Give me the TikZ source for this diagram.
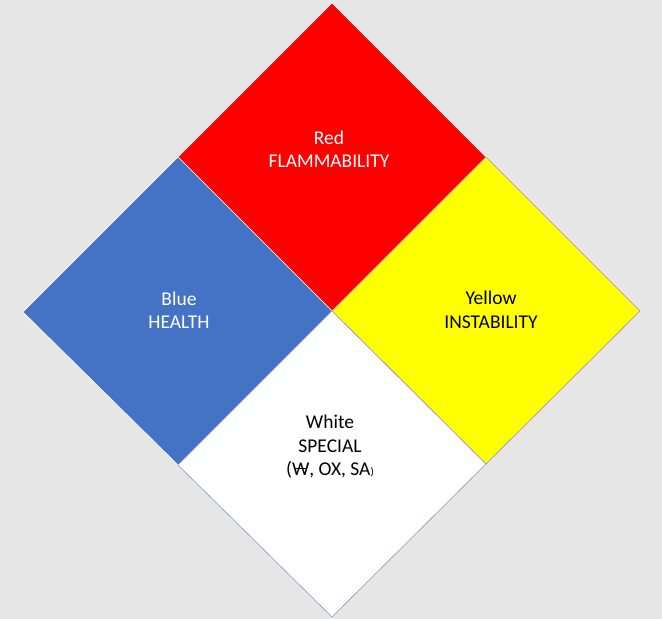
\documentclass[tikz,border=0pt]{standalone}
\usepackage{fontspec}
\setmainfont{Carlito}
\definecolor{bgc}{HTML}{E6E6E6}
\definecolor{nfpared}{HTML}{FF0000}
\definecolor{nfpablue}{HTML}{4472C4}
\definecolor{nfpayellow}{HTML}{FFFF00}
\definecolor{edgec}{HTML}{8C96BE}
\newcommand{\strikeW}{{\ooalign{W\cr\hidewidth\rule[0.33em]{0.62em}{0.06em}\hidewidth\cr}}}
\tikzset{
  quad/.style={draw=edgec, line width=0.6pt, line join=miter},
  lbl/.style={align=center, font=\fontsize{19.5}{23.5}\selectfont, inner sep=0pt}
}
\begin{document}
\begin{tikzpicture}[x=1pt,y=-1pt]
\fill[bgc] (0,0) rectangle (662,619);
\useasboundingbox (0,0) rectangle (662,619);
\coordinate (T) at (332,3);
\coordinate (L) at (23,312);
\coordinate (R) at (640,311);
\coordinate (B) at (332,617);
\coordinate (C) at (332,311);
\coordinate (TL) at (178,157);
\coordinate (TR) at (486,157);
\coordinate (BR) at (486,464);
\coordinate (BL) at (178,465);
\filldraw[quad, fill=nfpared, draw=white] (T) -- (TR) -- (C) -- (TL) -- cycle;
\filldraw[quad, fill=nfpablue, draw=white] (TL) -- (C) -- (BL) -- (L) -- cycle;
\filldraw[quad, fill=nfpayellow] (TR) -- (R) -- (BR) -- (C) -- cycle;
\filldraw[quad, fill=white] (C) -- (BR) -- (B) -- (BL) -- cycle;
\node[lbl, text=white] (red) at (329,149) {Red\\FLAMMABILITY};
\node[lbl, text=white] (blue) at (179,310) {Blue\\HEALTH};
\node[lbl, text=black] (yellow) at (491,310) {Yellow\\INSTABILITY};
\node[lbl, text=black] (white) at (330,447) {White\\SPECIAL\\(\strikeW, OX, SA{\fontsize{11}{11}\selectfont)}};
\end{tikzpicture}
\end{document}
